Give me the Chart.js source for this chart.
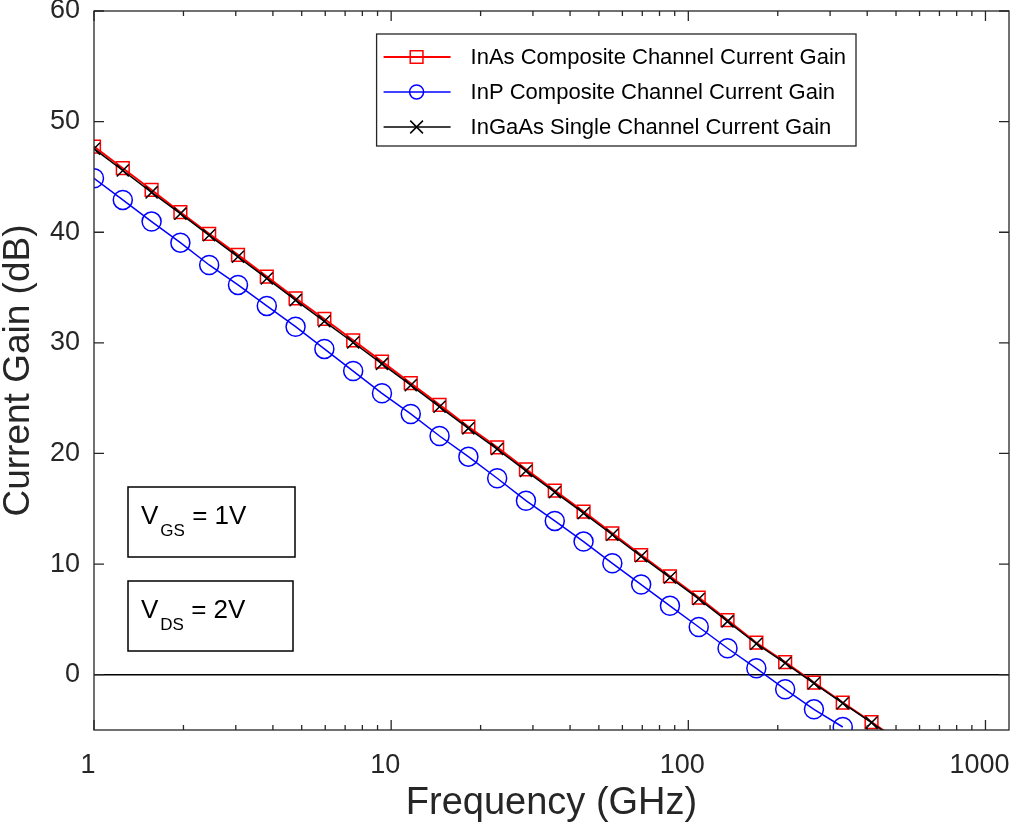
<!DOCTYPE html>
<html>
<head>
<meta charset="utf-8">
<script src="https://cdn.jsdelivr.net/npm/chart.js@4/dist/chart.umd.min.js"></script>
<style>
  html, body { margin: 0; padding: 0; background: #fff; }
  canvas { display: block; }
</style>
</head>
<body>
<canvas id="gain" width="1020" height="830"></canvas>
<script>
// frequency points (GHz)
const freqGHz = [1, 1.25, 1.5625, 1.953, 2.441, 3.052, 3.815, 4.768, 5.96, 7.451,
  9.313, 11.64, 14.55, 18.19, 22.74, 28.42, 35.53, 44.41, 55.51, 69.39,
  86.74, 108.4, 135.5, 169.4, 211.8, 264.7, 330.9, 413.6, 517.0];

// current gain (dB) per series
const inasGain = [47.74, 45.79, 43.82, 41.81, 39.85, 37.95, 35.99, 34.03, 32.16, 30.23,
  28.30, 26.35, 24.39, 22.42, 20.56, 18.57, 16.64, 14.74, 12.78, 10.82,
  8.90, 6.97, 4.93, 2.89, 1.13, -0.72, -2.53, -4.28, -6.10];
const inpGain = [44.88, 42.92, 40.96, 39.06, 37.04, 35.24, 33.34, 31.46, 29.45, 27.45,
  25.44, 23.57, 21.58, 19.71, 17.76, 15.73, 13.90, 12.03, 10.07, 8.15,
  6.23, 4.31, 2.39, 0.58, -1.32, -3.13, -4.73];
const ingaasGain = [47.55, 45.58, 43.60, 41.68, 39.72, 37.78, 35.82, 33.86, 31.95, 30.03,
  28.10, 26.17, 24.22, 22.27, 20.40, 18.42, 16.50, 14.60, 12.65, 10.70,
  8.78, 6.85, 4.82, 2.80, 1.05, -0.78, -2.58, -4.33, -6.15];

const seriesLabels = ["InAs Composite Channel Current Gain", "InP Composite Channel Current Gain", "InGaAs Single Channel Current Gain"];
const xTickValues = [1, 10, 100, 1000];
const yTickValues = [0, 10, 20, 30, 40, 50, 60];
const biasNotes = [["V", "GS", " = 1V"], ["V", "DS", " = 2V"]];

const FONT = '"Liberation Sans", Arial, Helvetica, sans-serif';
const AXIS = '#262626';

const pts = (ys) => ys.map((v, i) => ({ x: freqGHz[i], y: v }));

function marker(ctx, style, x, y, r) {
  ctx.beginPath();
  if (style === 'rect') {
    const s = r * Math.SQRT1_2;
    ctx.rect(x - s, y - s, 2 * s, 2 * s);
  } else if (style === 'circle') {
    ctx.arc(x, y, r, 0, Math.PI * 2);
  } else {
    const s = r * Math.SQRT1_2;
    ctx.moveTo(x - s, y - s); ctx.lineTo(x + s, y + s);
    ctx.moveTo(x - s, y + s); ctx.lineTo(x + s, y - s);
  }
  ctx.stroke();
}

const decorations = {
  id: 'decorations',
  beforeDatasetsDraw(chart) {
    const { ctx, chartArea: a, scales: { y } } = chart;
    const y0 = y.getPixelForValue(0);
    ctx.save();
    ctx.strokeStyle = '#000';
    ctx.lineWidth = 1.5;
    ctx.beginPath();
    ctx.moveTo(a.left, y0);
    ctx.lineTo(a.right, y0);
    ctx.stroke();
    ctx.restore();
  },
  afterDraw(chart) {
    const { ctx, chartArea: a, scales: { x, y } } = chart;
    ctx.save();

    // axes box + inward ticks (mirrored)
    ctx.strokeStyle = AXIS;
    ctx.lineWidth = 1.3;
    ctx.strokeRect(a.left, a.top, a.right - a.left, a.bottom - a.top);
    ctx.beginPath();
    for (let d = 1; d <= 1000; d *= 10) {
      for (let m = 1; m <= 9; m++) {
        const v = d * m;
        if (v < x.min || v > x.max) continue;
        const px = x.getPixelForValue(v);
        const len = m === 1 ? 10 : 5;
        ctx.moveTo(px, a.bottom); ctx.lineTo(px, a.bottom - len);
        ctx.moveTo(px, a.top); ctx.lineTo(px, a.top + len);
      }
    }
    yTickValues.forEach(v => {
      const py = y.getPixelForValue(v);
      ctx.moveTo(a.left, py); ctx.lineTo(a.left + 10, py);
      ctx.moveTo(a.right, py); ctx.lineTo(a.right - 10, py);
    });
    ctx.stroke();

    // legend box, top right inside the axes
    const ds = chart.data.datasets.filter(d => d.label);
    ctx.font = '22px ' + FONT;
    const tw = Math.max(...ds.map(d => ctx.measureText(d.label).width));
    const bw = 94 + tw + 10, bh = 112;
    const bx = a.right - 153 - bw, by = a.top + 23;
    ctx.fillStyle = '#fff';
    ctx.fillRect(bx, by, bw, bh);
    ctx.strokeStyle = AXIS;
    ctx.lineWidth = 1.3;
    ctx.strokeRect(bx, by, bw, bh);
    ds.forEach((d, i) => {
      const ry = by + 23 + i * 35;
      ctx.strokeStyle = d.borderColor;
      ctx.lineWidth = d.borderWidth;
      ctx.beginPath();
      ctx.moveTo(bx + 7, ry); ctx.lineTo(bx + 74, ry);
      ctx.stroke();
      ctx.lineWidth = d.pointBorderWidth;
      marker(ctx, d.pointStyle, bx + 40, ry, d.pointStyle === 'circle' ? 7 : 9);
      ctx.fillStyle = '#000';
      ctx.textAlign = 'left';
      ctx.textBaseline = 'middle';
      ctx.fillText(d.label, bx + 94, ry + 1);
    });

    // bias condition boxes, lower left
    const nx = a.left + 34;
    biasNotes.forEach((n, i) => {
      const top = a.top + 476 + i * 94;
      const w = i === 0 ? 167 : 165, h = 70;
      ctx.strokeStyle = '#000';
      ctx.lineWidth = 1.5;
      ctx.strokeRect(nx, top, w, h);
      ctx.fillStyle = '#000';
      ctx.textBaseline = 'alphabetic';
      ctx.textAlign = 'left';
      const base = top + 37;
      ctx.font = '26px ' + FONT;
      ctx.fillText(n[0], nx + 13, base);
      const vw = ctx.measureText(n[0]).width;
      ctx.font = '17px ' + FONT;
      ctx.fillText(n[1], nx + 15 + vw, base + 12);
      const sw = ctx.measureText(n[1]).width;
      ctx.font = '26px ' + FONT;
      ctx.fillText(n[2], nx + 15 + vw + sw, base);
    });

    ctx.restore();
  }
};

new Chart(document.getElementById('gain'), {
  type: 'line',
  data: {
    datasets: [
      {
        label: seriesLabels[0],
        data: pts(inasGain),
        borderColor: '#ff0000',
        borderWidth: 2,
        pointStyle: 'rect',
        pointRadius: 9,
        pointBorderWidth: 1.5,
        pointBorderColor: '#ff0000',
        pointBackgroundColor: 'rgba(0,0,0,0)',
        order: 3
      },
      {
        label: seriesLabels[1],
        data: pts(inpGain),
        borderColor: '#0000ff',
        borderWidth: 1.5,
        pointStyle: 'circle',
        pointRadius: 9.5,
        pointBorderWidth: 1.5,
        pointBorderColor: '#0000ff',
        pointBackgroundColor: 'rgba(0,0,0,0)',
        order: 2
      },
      {
        label: seriesLabels[2],
        data: pts(ingaasGain),
        borderColor: '#000000',
        borderWidth: 1.5,
        pointStyle: 'crossRot',
        pointRadius: 8.5,
        pointBorderWidth: 1.5,
        pointBorderColor: '#000000',
        order: 1
      }
    ]
  },
  options: {
    responsive: false,
    devicePixelRatio: 1,
    animation: false,
    layout: { padding: { left: 0, right: 9, top: 11, bottom: 0 } },
    plugins: {
      legend: { display: false },
      tooltip: { enabled: false }
    },
    scales: {
      x: {
        type: 'logarithmic',
        min: 1,
        max: 1200,
        afterBuildTicks: (s) => { s.ticks = xTickValues.map(v => ({ value: v })); },
        afterFit: (s) => { s.height = 100; s.paddingLeft = 0; s.paddingRight = 0; },
        grid: { display: false, drawTicks: false },
        border: { display: false },
        ticks: {
          color: AXIS,
          font: { family: FONT, size: 27 },
          padding: 19,
          labelOffset: -6,
          maxRotation: 0,
          autoSkip: false,
          callback: (v) => String(v)
        },
        title: {
          display: true,
          text: 'Frequency (GHz)',
          color: AXIS,
          font: { family: FONT, size: 38, lineHeight: 1 },
          padding: { top: 0, bottom: 7 }
        }
      },
      y: {
        min: -5,
        max: 60,
        afterBuildTicks: (s) => { s.ticks = yTickValues.map(v => ({ value: v })); },
        afterFit: (s) => { s.width = 94; s.paddingTop = 0; s.paddingBottom = 0; },
        grid: { display: false, drawTicks: false },
        border: { display: false },
        ticks: {
          color: AXIS,
          font: { family: FONT, size: 27 },
          padding: 14
        },
        title: {
          display: true,
          text: 'Current Gain (dB)',
          color: AXIS,
          font: { family: FONT, size: 37, lineHeight: 1 },
          padding: { top: 0, bottom: 0 }
        }
      }
    }
  },
  plugins: [decorations]
});
</script>
</body>
</html>
